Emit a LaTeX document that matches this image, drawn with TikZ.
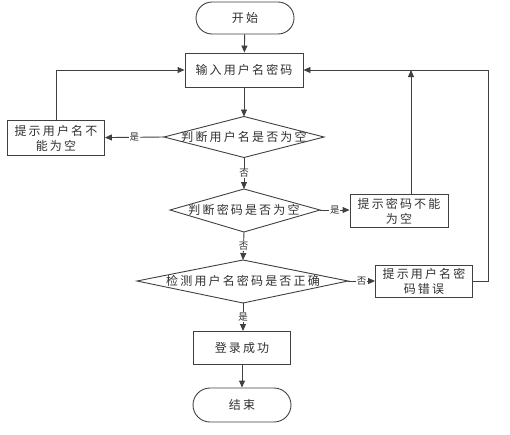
\documentclass[tikz,border=0pt]{standalone}
\usepackage{fontspec}
\newfontfamily\cjk[LetterSpace=18]{Noto Sans CJK SC}
\usetikzlibrary{arrows.meta}
\definecolor{ln}{HTML}{404040}
\definecolor{tx}{HTML}{303030}
\tikzset{
  base/.style={font=\cjk\fontsize{12}{15}\selectfont, text=tx},
  procbox/.style={base, draw=ln, line width=0.9pt, minimum width=#1, inner sep=0pt, align=center},
  term/.style={base, draw=ln, line width=0.9pt, minimum width=98pt, minimum height=32pt, rounded corners=16pt},
  dtext/.style={base, inner sep=0pt},
  shape line/.style={draw=ln, line width=0.9pt},
  conn/.style={draw=ln, line width=0.9pt, -{Triangle[length=7pt,width=6pt]}},
  lbl/.style={font=\cjk\fontsize{9.5}{11}\selectfont, text=tx, fill=white, inner sep=0.6pt},
}
\begin{document}
\begin{tikzpicture}[x=1pt,y=-1pt]
\useasboundingbox (0,0) rectangle (510,434);
% nodes
\node[term] (start) at (245,18) {开始};
\node[procbox=118pt, minimum height=34pt] (input) at (244,70) {输入用户名密码};
% diamond 1
\coordinate (d1) at (244,137);
\coordinate (d1n) at (244,116.5);
\coordinate (d1s) at (244,157.5);
\coordinate (d1w) at (164,137);
\coordinate (d1e) at (324,137);
\draw[shape line] (d1n) -- (d1e) -- (d1s) -- (d1w) -- cycle;
\node[dtext] (d1t) at (d1) {判断用户名是否为空};
\node[procbox=97pt, minimum height=35pt] (tipU) at (56,138) {提示用户名不\\能为空};
% diamond 2
\coordinate (d2) at (244,210);
\coordinate (d2n) at (244,189);
\coordinate (d2s) at (244,232);
\coordinate (d2w) at (170,210);
\coordinate (d2e) at (320,210);
\draw[shape line] (d2n) -- (d2e) -- (d2s) -- (d2w) -- cycle;
\node[dtext] (d2t) at (d2) {判断密码是否为空};
\node[procbox=98pt, minimum height=33pt] (tipP) at (399,211) {提示密码不能\\为空};
% diamond 3
\coordinate (d3) at (243,281);
\coordinate (d3n) at (243,260);
\coordinate (d3s) at (243,303);
\coordinate (d3w) at (137,281);
\coordinate (d3e) at (348,281);
\draw[shape line] (d3n) -- (d3e) -- (d3s) -- (d3w) -- cycle;
\node[dtext] (d3t) at (d3) {检测用户名密码是否正确};
\node[procbox=97pt, minimum height=32pt] (tipE) at (424,281) {提示用户名密\\码错误};
\node[procbox=97pt, minimum height=33pt] (ok) at (242,348) {登录成功};
\node[term, minimum height=34pt, rounded corners=17pt] (stop) at (242,405) {结束};
% helper coordinates
\coordinate (jP) at (411,70);
\coordinate (rE) at (488,281);
\coordinate (rT) at (488,70);
\coordinate (lT) at (56,70);
% connectors
\draw[conn] (start) -- (input);
\draw[conn] (input) -- (d1n);
\draw[conn] (d1w) -- node[lbl] (l1) {是} (tipU);
\draw[conn] (tipU.north) -- (lT) -- (input.west);
\draw[conn] (d1s) -- node[lbl] (l2) {否} (d2n);
\draw[conn] (d2e) -- node[lbl] (l3) {是} (tipP.west |- d2e);
\draw[conn] (tipP.north -| jP) -- (jP);
\draw[conn] (d2s) -- node[lbl] (l4) {否} (d3n);
\draw[conn] (d3e) -- node[lbl] (l5) {否} (tipE.west);
\draw[conn] (tipE.east) -- (rE) -- (rT) -- (input.east);
\draw[conn] (d3s) -- node[lbl] (l6) {是} (ok.north -| d3s);
\draw[conn] (ok) -- (stop);
\end{tikzpicture}
\end{document}
